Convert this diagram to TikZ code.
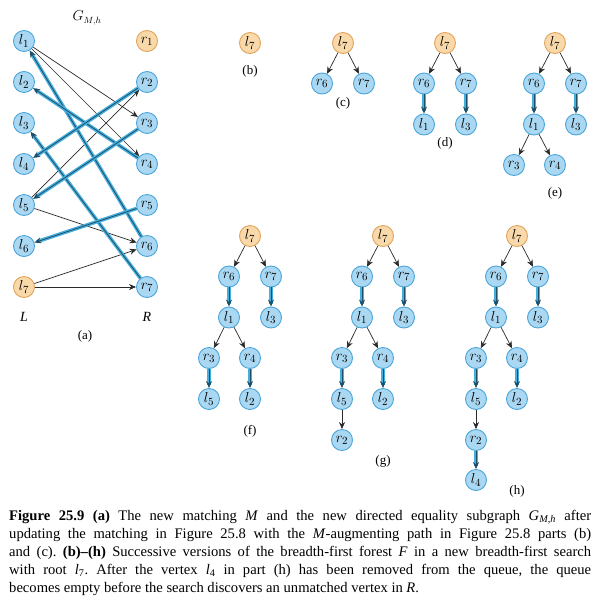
\documentclass[tikz,border=0pt]{standalone}
\usepackage{fontspec}
\setmainfont{Liberation Serif}
\usetikzlibrary{arrows.meta}
\definecolor{bfill}{HTML}{AAD8F2}
\definecolor{bdraw}{HTML}{4AA6DA}
\definecolor{ofill}{HTML}{F9D9A9}
\definecolor{odraw}{HTML}{E2A45C}
\definecolor{glowc}{HTML}{46AEDD}
\definecolor{corec}{HTML}{1E4F66}
\definecolor{thinc}{HTML}{2A2A2A}
\tikzset{
  vb/.style={circle, minimum size=21pt, inner sep=0pt, fill=bfill, draw=bdraw, line width=0.9pt, font=\fontsize{15}{15}\selectfont},
  vo/.style={vb, fill=ofill, draw=odraw},
  thinarrow/.style={draw=thinc, line width=0.7pt, -{Stealth[length=7pt,width=6pt]}},
  matchglow/.style={draw=glowc, line width=3.6pt, shorten >=3pt},
  matchcore/.style={draw=corec, line width=0.8pt, -{Stealth[length=7pt,width=6pt]}},
  partlabel/.style={font=\fontsize{13}{13}\selectfont},
}
\newcommand\mEdge[2]{\draw[matchglow] (#1) -- (#2); \draw[matchcore] (#1) -- (#2);}
\newcommand\tEdge[2]{\draw[thinarrow] (#1) -- (#2);}
\newcommand\TreeLevelOne[1]{%
  \node[vo] (#1l7) at (0,0) {$l_7$};
  \node[vb] (#1r6) at (-21,40.5) {$r_6$};
  \node[vb] (#1r7) at (21,40.5) {$r_7$};
  \tEdge{#1l7}{#1r6}\tEdge{#1l7}{#1r7}}
\newcommand\TreeLevelTwo[1]{%
  \node[vb] (#1l1) at (-21,81.5) {$l_1$};
  \node[vb] (#1l3) at (21,81.5) {$l_3$};
  \mEdge{#1r6}{#1l1}\mEdge{#1r7}{#1l3}}
\newcommand\TreeLevelThree[1]{%
  \node[vb] (#1r3) at (-41,122) {$r_3$};
  \node[vb] (#1r4) at (0,122) {$r_4$};
  \tEdge{#1l1}{#1r3}\tEdge{#1l1}{#1r4}}
\newcommand\TreeLevelFour[1]{%
  \node[vb] (#1l5) at (-41,163) {$l_5$};
  \node[vb] (#1l2) at (0,163) {$l_2$};
  \mEdge{#1r3}{#1l5}\mEdge{#1r4}{#1l2}}
\begin{document}
\begin{tikzpicture}[x=1pt,y=-1pt]
\useasboundingbox (0,0) rectangle (600,614);
\fill[white] (0,0) rectangle (600,614);
% ---------- part (a)
\node[font=\fontsize{13.5}{13.5}\selectfont] (gmh) at (87,18) {$G_{M,h}$};
\foreach \i/\y in {1/41,2/82,3/123,4/164,5/205,6/246} {
  \node[vb] (al\i) at (24,\y) {$l_\i$};
}
\node[vo] (al7) at (24,287) {$l_7$};
\node[vo] (ar1) at (147,41) {$r_1$};
\foreach \i/\y in {2/82,3/123,4/164,5/205,6/246,7/287} {
  \node[vb] (ar\i) at (147,\y) {$r_\i$};
}
\node[font=\fontsize{14}{14}\selectfont\itshape] (Llab) at (24,317) {L};
\node[font=\fontsize{14}{14}\selectfont\itshape] (Rlab) at (147,317) {R};
\node[partlabel] (pa) at (85,336) {(a)};
\tEdge{al1}{ar3}
\tEdge{al1}{ar4}
\tEdge{al5}{ar2}
\tEdge{al5}{ar6}
\tEdge{al7}{ar6}
\tEdge{al7}{ar7}
\mEdge{ar6}{al1}
\mEdge{ar4}{al2}
\mEdge{ar7}{al3}
\mEdge{ar2}{al4}
\mEdge{ar3}{al5}
\mEdge{ar5}{al6}
% ---------- part (b)
\node[vo] (bl7) at (250,43) {$l_7$};
\node[partlabel] (pb) at (250,71) {(b)};
% ---------- part (c)
\begin{scope}[shift={(343,43)}]
\TreeLevelOne{c}
\node[partlabel] (pc) at (0,60) {(c)};
\end{scope}
% ---------- part (d)
\begin{scope}[shift={(445,43)}]
\TreeLevelOne{d}
\TreeLevelTwo{d}
\node[partlabel] (pd) at (0,100) {(d)};
\end{scope}
% ---------- part (e)
\begin{scope}[shift={(555,43)}]
\TreeLevelOne{e}
\TreeLevelTwo{e}
\TreeLevelThree{e}
\node[partlabel] (pe) at (0,150) {(e)};
\end{scope}
% ---------- part (f)
\begin{scope}[shift={(250,236)}]
\TreeLevelOne{f}
\TreeLevelTwo{f}
\TreeLevelThree{f}
\TreeLevelFour{f}
\node[partlabel] (pf) at (0,195) {(f)};
\end{scope}
% ---------- part (g)
\begin{scope}[shift={(383,236)}]
\TreeLevelOne{g}
\TreeLevelTwo{g}
\TreeLevelThree{g}
\TreeLevelFour{g}
\node[vb] (gr2) at (-41,204) {$r_2$};
\tEdge{gl5}{gr2}
\node[partlabel] (pg) at (0,225) {(g)};
\end{scope}
% ---------- part (h)
\begin{scope}[shift={(517,236)}]
\TreeLevelOne{h}
\TreeLevelTwo{h}
\TreeLevelThree{h}
\TreeLevelFour{h}
\node[vb] (hr2) at (-41,204) {$r_2$};
\node[vb] (hl4) at (-41,244) {$l_4$};
\tEdge{hl5}{hr2}
\mEdge{hr2}{hl4}
\node[partlabel] (ph) at (0,255) {(h)};
\end{scope}
% ---------- caption
\node[anchor=north west, inner sep=0pt, text width=582pt, align=justify,
      font=\fontsize{14.6}{18}\selectfont\frenchspacing] (cap) at (9,510) {%
\textbf{Figure 25.9 (a)} The new matching \textit{M} and the new directed equality subgraph \textit{G}\textsubscript{\textit{M,h}} after\linebreak
updating the matching in Figure 25.8 with the \textit{M}-augmenting path in Figure 25.8 parts (b)\linebreak
and (c). \textbf{(b)--(h)} Successive versions of the breadth-first forest \textit{F} in a new breadth-first search\linebreak
with root \textit{l}\textsubscript{7}. After the vertex \textit{l}\textsubscript{4} in part (h) has been removed from the queue, the queue\linebreak
becomes empty before the search discovers an unmatched vertex in \textit{R}.};
\end{tikzpicture}
\end{document}
